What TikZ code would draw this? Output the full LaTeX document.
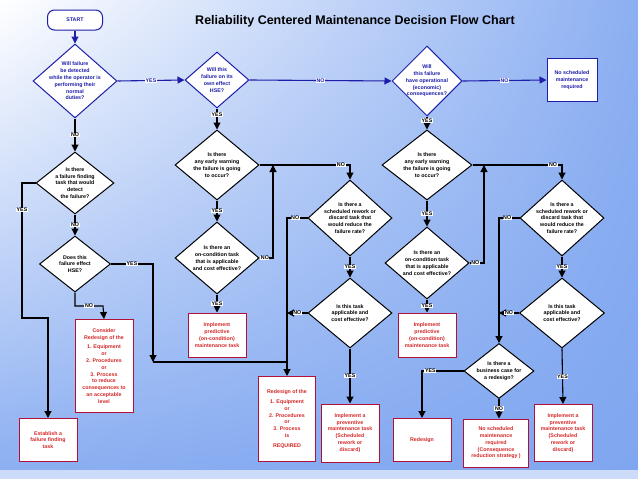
\documentclass[tikz,border=0pt]{standalone}
\usepackage{fontspec}
\setmainfont{Liberation Sans}
\usetikzlibrary{shapes.geometric,arrows.meta,shadings}
\definecolor{bgblue}{HTML}{7FA6F0}
\definecolor{qblue}{HTML}{1E1EA8}
\definecolor{tred}{HTML}{D42828}
\definecolor{bred}{HTML}{B0103A}
\begin{document}
\begin{tikzpicture}[x=1pt,y=-1pt,
  font=\fontsize{5.3}{6.8}\selectfont\bfseries,
  dia/.style={diamond,draw,fill=white,line width=1pt,inner sep=0pt},
  bdia/.style={dia,draw=qblue},
  txt/.style={align=center,inner sep=0pt},
  rbox/.style={rectangle,draw=bred,fill=white,line width=1pt,text=tred,align=center,inner sep=0pt},
  lbl/.style={fill=white,inner sep=0.6pt},
  line/.style={line width=1.1pt},
  arr/.style={line,-{Triangle[length=7pt,width=7pt]}}]
\useasboundingbox (0,0) rectangle (638,479);
\shade[upper left=white,upper right=bgblue!90,lower left=bgblue!90,lower right=bgblue] (0,0) rectangle (638,470);
\fill[bgblue!40] (0,470) rectangle (638,479);
% title and start
\node[font=\fontsize{12.5}{14}\selectfont\bfseries] (title) at (355,21) {Reliability Centered Maintenance Decision Flow Chart};
\node[draw=qblue,fill=white,line width=1pt,rounded corners=7pt,minimum width=55pt,minimum height=20pt,text=qblue] (start) at (75,20) {START};
% top row (blue)
\node[bdia,minimum width=84pt,minimum height=74pt] (d1) at (75,81) {};
\node[txt,text=qblue] at (d1) {Will failure\\be detected\\while the operator is\\performing their\\normal\\duties?};
\node[bdia,minimum width=64pt,minimum height=56pt] (d2) at (217,80) {};
\node[txt,text=qblue] at (d2) {Will this\\failure on its\\own effect\\HSE?};
\node[bdia,minimum width=70pt,minimum height=70pt] (d3) at (427,81) {};
\node[txt,text=qblue] at (d3) {Will\\this failure\\have operational\\(economic)\\consequences?};
\node[draw=qblue,fill=white,line width=1pt,minimum width=50pt,minimum height=43pt,align=center,text=qblue,inner sep=0pt] (nosched) at (572,80) {No scheduled\\maintenance\\required};
\draw[arr,qblue] (start) -- (d1.north);
\draw[arr,qblue] (d1.east) -- node[lbl]{YES} (d2.west);
\draw[arr,qblue] (d2.east) -- node[lbl]{NO} (d3.west);
\draw[arr,qblue] (d3.east) -- node[lbl]{NO} (nosched.west);
% left column
\node[dia,minimum width=78pt,minimum height=62pt] (d5) at (75,183) {};
\node[txt] at (d5) {Is there\\a failure finding\\task that would\\detect\\the failure?};
\node[dia,minimum width=71pt,minimum height=56pt] (d6) at (75,264) {};
\node[txt] at (d6) {Does this\\failure effect\\HSE?};
\node[rbox,minimum width=58pt,minimum height=43pt] (estab) at (48,440) {Establish a\\failure finding\\task};
\node[rbox,minimum width=58pt,minimum height=93pt] (consider) at (104,366) {Consider\\Redesign of the\\[3pt]1. Equipment\\or\\2. Procedures\\or\\3. Process\\to reduce\\consequences to\\an acceptable\\level};
\coordinate (c1) at (153,362);
\draw[arr] (d1.south) -- node[lbl]{NO} (d5.north);
\draw[arr] (d5.south) -- node[lbl]{NO} (d6.north);
\draw[arr] (d5.west) -| (22,318) node[lbl,pos=0.6]{YES} -| (estab.north);
\draw[arr] (d6.south) |- (103,306) node[lbl,pos=0.75]{NO} -- (consider.north);
\draw[arr] (d6.east) -| node[lbl,pos=0.25]{YES} (c1);
% middle column
\node[dia,minimum width=84pt,minimum height=70pt] (d4) at (217,165) {};
\node[txt] at (d4) {Is there\\any early warning\\the failure is going\\to occur?};
\node[dia,minimum width=84pt,minimum height=72pt] (d7) at (217,258) {};
\node[txt] at (d7) {Is there an\\on-condition task\\that is applicable\\and cost effective?};
\node[rbox,minimum width=58pt,minimum height=44pt] (pred1) at (217,335) {Implement\\predictive\\(on-condition)\\maintenance task};
\node[dia,minimum width=84pt,minimum height=76pt] (d8) at (350,218) {};
\node[txt] at (d8) {Is there a\\scheduled rework or\\discard task that\\would reduce the\\failure rate?};
\node[dia,minimum width=84pt,minimum height=70pt] (d9) at (350,313) {};
\node[txt] at (d9) {Is this task\\applicable and\\cost effective?};
\node[rbox,minimum width=58pt,minimum height=58pt] (prev1) at (350,433) {Implement a\\preventive\\maintenance task\\(Scheduled\\rework or\\discard)};
\node[rbox,minimum width=57pt,minimum height=85pt] (redes1) at (287,419) {Redesign of the\\[3pt]1. Equipment\\or\\2. Procedures\\or\\3. Process\\is\\[3pt]REQUIRED};
\coordinate (j1) at (273,165);
\coordinate (j2) at (287,313);
\draw[arr] (d2.south) -- node[lbl,pos=0.3]{YES} (d4.north);
\draw[arr] (d4.south) -- node[lbl]{YES} (d7.north);
\draw[arr] (d7.south) -- node[lbl]{YES} (pred1.north);
\draw[arr] (d7.east) -| node[lbl,pos=0.2]{NO} (j1);
\draw[arr] (d4.east) -| node[lbl,pos=0.45]{NO} (d8.north);
\draw[arr] (d8.south) -- node[lbl]{YES} (d9.north);
\draw[arr] (d9.south) -- node[lbl]{YES} (prev1.north);
\draw[line] (d8.west) -| node[lbl,pos=0.3]{NO} (j2);
\draw[arr] (d9.west) -- node[lbl]{NO} (j2);
\draw[arr] (j2) -- (redes1.north);
\draw[line] (c1) -- (287,362);
% right column
\node[dia,minimum width=90pt,minimum height=70pt] (d10) at (427,165) {};
\node[txt] at (d10) {Is there\\any early warning\\the failure is going\\to occur?};
\node[dia,minimum width=84pt,minimum height=72pt] (d11) at (427,263) {};
\node[txt] at (d11) {Is there an\\on-condition task\\that is applicable\\and cost effective?};
\node[rbox,minimum width=58pt,minimum height=44pt] (pred2) at (427,335) {Implement\\predictive\\(on-condition)\\maintenance task};
\node[dia,minimum width=84pt,minimum height=76pt] (d12) at (562,218) {};
\node[txt] at (d12) {Is there a\\scheduled rework or\\discard task that\\would reduce the\\failure rate?};
\node[dia,minimum width=85pt,minimum height=70pt] (d14) at (562,313) {};
\node[txt] at (d14) {Is this task\\applicable and\\cost effective?};
\node[rbox,minimum width=58pt,minimum height=57pt] (prev2) at (563,433) {Implement a\\preventive\\maintenance task\\(Scheduled\\rework or\\discard)};
\node[dia,minimum width=70pt,minimum height=55pt] (d13) at (499,371) {};
\node[txt] at (d13) {Is there a\\business case for\\a redesign?};
\node[rbox,minimum width=58pt,minimum height=43pt] (redes2) at (422,440) {Redesign};
\node[rbox,minimum width=65pt,minimum height=48pt] (nosched2) at (496,443) {No scheduled\\maintenance\\required\\(Consequence\\reduction strategy )};
\coordinate (j3) at (484,165);
\coordinate (j4) at (499,313);
\draw[arr] (d3.south) -- node[lbl,pos=0.3]{YES} (d10.north);
\draw[arr] (d10.south) -- node[lbl]{YES} (d11.north);
\draw[arr] (d11.south) -- node[lbl]{YES} (pred2.north);
\draw[arr] (d11.east) -| node[lbl,pos=0.2]{NO} (j3);
\draw[arr] (d10.east) -| node[lbl,pos=0.45]{NO} (d12.north);
\draw[arr] (d12.south) -- node[lbl]{YES} (d14.north);
\draw[arr] (d14.south) -- node[lbl]{YES} (prev2.north);
\draw[line] (d12.west) -| node[lbl,pos=0.3]{NO} (j4);
\draw[arr] (d14.west) -- node[lbl]{NO} (j4);
\draw[arr] (j4) -- (d13.north);
\draw[arr] (d13.west) -| node[lbl,pos=0.4]{YES} (redes2.north);
\draw[arr] (d13.south) -- node[lbl]{NO} (d13.south |- nosched2.north);
\end{tikzpicture}
\end{document}
